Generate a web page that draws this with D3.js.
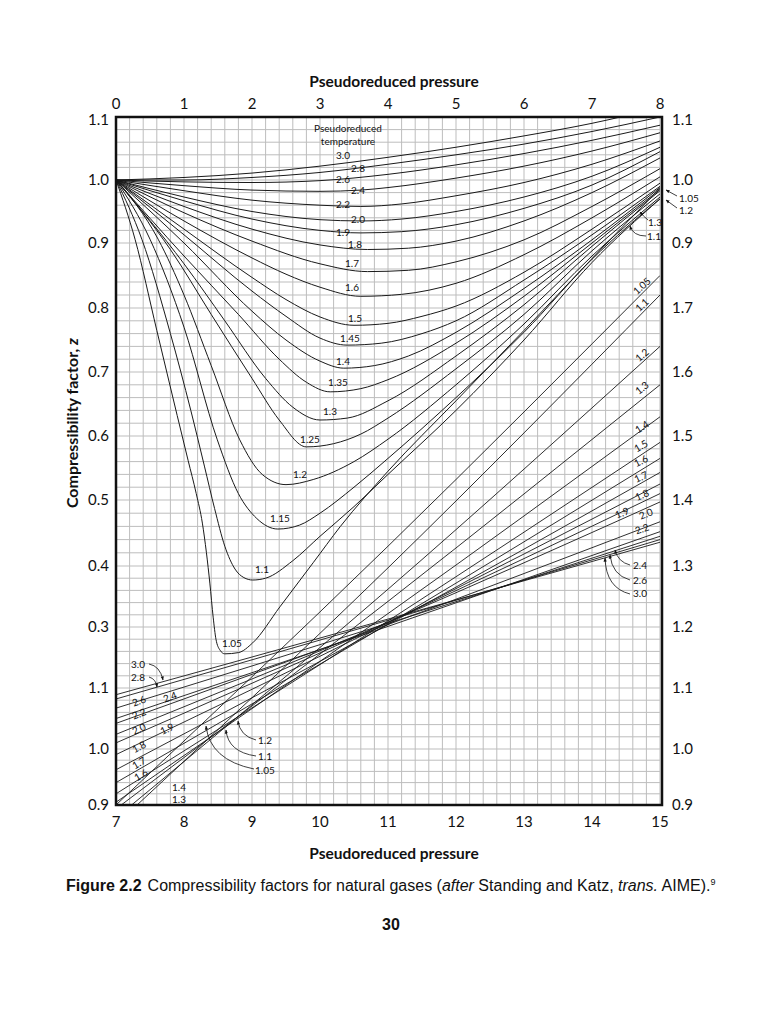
<!DOCTYPE html>
<html>
<head>
<meta charset="utf-8">
<script src="https://cdn.jsdelivr.net/npm/d3@7"></script>
<style>
  body { margin: 0; background: #fff; }
  svg text { font-family: Lato, "Open Sans", sans-serif; fill: #111; }
  text.cap { font-family: "Liberation Sans", Arial, sans-serif; }
</style>
</head>
<body>
<svg id="chart" width="768" height="1024"></svg>
<script>
// tick labels
var topTicks = [0, 1, 2, 3, 4, 5, 6, 7, 8];
var bottomTicks = [7, 8, 9, 10, 11, 12, 13, 14, 15];
var leftTicks = [1.1, 1.0, 0.9, 0.8, 0.7, 0.6, 0.5, 0.4, 0.3];
var lowerLeftTicks = [1.1, 1.0, 0.9];
var rightTopTicks = [1.1, 1.0, 0.9];
var rightLowTicks = [1.7, 1.6, 1.5, 1.4, 1.3, 1.2, 1.1, 1.0, 0.9];

// upper chart: [pseudoreduced pressure, z], Ppr 0 to 8
var upper105 = [[0,1],[0.28,0.906],[0.6,0.765],[0.9,0.632],[1.06,0.562],[1.18,0.51],[1.27,0.465],[1.33,0.42],[1.38,0.372],[1.43,0.315],[1.47,0.28],[1.53,0.262],[1.6,0.256],[1.8,0.258],[2.01,0.274],[2.41,0.333],[2.9,0.405],[3.3,0.46],[4,0.545],[5,0.655],[6,0.765],[7,0.876],[8,0.987]];
var upper110 = [[0,1],[0.38,0.906],[0.8,0.76],[1.1,0.64],[1.3,0.553],[1.45,0.487],[1.6,0.43],[1.75,0.395],[1.88,0.381],[2.01,0.377],[2.2,0.38],[2.6,0.408],[3,0.445],[3.5,0.49],[4,0.54],[5,0.64],[6,0.75],[7,0.87],[8,0.97]];
var upper115 = [[0,1],[0.5,0.906],[1,0.77],[1.49,0.594],[1.8,0.51],[2.07,0.472],[2.38,0.456],[2.7,0.462],[3,0.48],[3.5,0.52],[4,0.565],[5,0.66],[6,0.762],[7,0.875],[8,0.97]];
var upper120 = [[0,1],[0.62,0.906],[1,0.82],[1.4,0.71],[1.82,0.594],[2.15,0.54],[2.5,0.524],[2.9,0.532],[3.5,0.56],[4,0.595],[5,0.68],[6,0.775],[7,0.88],[8,0.973]];
var upper125 = [[0,1],[0.8,0.89],[1.4,0.79],[2,0.69],[2.4,0.625],[2.8,0.583],[3.2,0.588],[3.6,0.603],[4,0.628],[5,0.705],[6,0.79],[7,0.888],[8,0.978]];
var upper130 = [[0,1],[1,0.868],[1.6,0.78],[2.2,0.69],[2.6,0.645],[3,0.625],[3.4,0.628],[4,0.655],[5,0.725],[6,0.805],[7,0.895],[8,0.983]];
var upper135 = [[0,1],[1,0.88],[1.8,0.79],[2.4,0.72],[2.8,0.684],[3.15,0.669],[3.6,0.674],[4,0.688],[5,0.745],[6,0.818],[7,0.9],[8,0.985]];
var upper140 = [[0,1],[1,0.9],[2,0.795],[2.5,0.75],[3,0.717],[3.35,0.706],[3.8,0.71],[4.3,0.725],[5,0.762],[6,0.83],[7,0.905],[8,0.988]];
var upper145 = [[0,1],[1,0.913],[2,0.826],[2.5,0.787],[3,0.753],[3.4,0.742],[3.9,0.745],[4.5,0.76],[5,0.78],[6,0.843],[7,0.913],[8,0.99]];
var upper150 = [[0,1],[1,0.922],[2,0.847],[2.5,0.813],[3,0.786],[3.5,0.773],[4,0.776],[4.5,0.787],[5,0.803],[6,0.855],[7,0.922],[8,0.995]];
var upper160 = [[0,1],[1,0.935],[2,0.877],[2.5,0.852],[3,0.832],[3.6,0.818],[4.2,0.821],[5,0.838],[6,0.882],[7,0.94],[8,1.005]];
var upper170 = [[0,1],[1,0.948],[2,0.903],[3,0.868],[3.7,0.856],[4.3,0.858],[5,0.871],[6,0.905],[7,0.958],[8,1.018]];
var upper180 = [[0,1],[1,0.958],[2,0.922],[3,0.897],[3.7,0.89],[4.3,0.892],[5,0.903],[6,0.935],[7,0.98],[8,1.035]];
var upper190 = [[0,1],[1,0.967],[2,0.938],[3,0.92],[3.6,0.916],[4.2,0.918],[5,0.929],[6,0.955],[7,0.992],[8,1.045]];
var upper200 = [[0,1],[1,0.973],[2,0.95],[3,0.937],[3.6,0.935],[4.2,0.938],[5,0.95],[6,0.973],[7,1.006],[8,1.052]];
var upper220 = [[0,1],[1,0.983],[2,0.968],[3,0.96],[3.6,0.958],[4.2,0.962],[5,0.975],[6,0.996],[7,1.025],[8,1.062]];
var upper240 = [[0,1],[1,0.991],[2,0.984],[3,0.982],[3.6,0.984],[4,0.988],[5,1.003],[6,1.022],[7,1.046],[8,1.075]];
var upper260 = [[0,1],[1,0.997],[2,0.996],[3,0.999],[4,1.009],[5,1.024],[6,1.042],[7,1.063],[8,1.087]];
var upper280 = [[0,1],[1,1.0],[2,1.004],[3,1.012],[4,1.025],[5,1.04],[6,1.057],[7,1.077],[8,1.1]];
var upper300 = [[0,1],[1,1.004],[2,1.011],[3,1.022],[4,1.036],[5,1.052],[6,1.07],[7,1.09],[8,1.115]];

var upperCurves = [upper105, upper110, upper115, upper120, upper125, upper130, upper135, upper140,
  upper145, upper150, upper160, upper170, upper180, upper190, upper200, upper220, upper240,
  upper260, upper280, upper300];

// lower chart: z at Ppr 7, 11 and 15 for each pseudoreduced temperature
var lowerTemps = [1.05, 1.1, 1.2, 1.3, 1.4, 1.5, 1.6, 1.7, 1.8, 1.9, 2.0, 2.2, 2.4, 2.6, 2.8, 3.0];
var lowerPpr = [7, 11, 15];
var lowerAt7 = [0.9, 0.865, 0.877, 0.893, 0.905, 0.92, 0.94, 0.963, 0.99, 1.01, 1.024, 1.042, 1.05, 1.067, 1.082, 1.089];
var lowerAt11 = [1.33, 1.297, 1.262, 1.242, 1.222, 1.21, 1.205, 1.204, 1.207, 1.208, 1.208, 1.204, 1.201, 1.206, 1.211, 1.213];
var lowerAt15 = [1.75, 1.72, 1.64, 1.58, 1.53, 1.49, 1.465, 1.443, 1.425, 1.41, 1.397, 1.367, 1.352, 1.345, 1.34, 1.336];

var svg = d3.select('#chart');
var L = 116, R = 660, T = 117, B = 805;

var xTop = d3.scaleLinear().domain([0, 8]).range([L, R]);
var xBot = d3.scaleLinear().domain([7, 15]).range([L, R]);
// the printed z axis is slightly uneven, so follow its labelled positions
var y = d3.scaleLinear()
  .domain([0, 0.1, 0.2, 0.3, 0.4, 0.5, 0.6, 0.7, 0.8, 0.9, 1.0, 1.1])
  .range([805, 749, 688, 627, 566, 500, 436, 372, 308, 243, 180, 117]);
var lowOffset = 0.9; // lower chart z is drawn 0.9 below its value

svg.append('defs').append('clipPath').attr('id', 'frame')
  .append('rect').attr('x', L).attr('y', T).attr('width', R - L).attr('height', B - T);
var mk = svg.select('defs').append('marker').attr('id', 'tip')
  .attr('viewBox', '0 0 10 10').attr('refX', 9).attr('refY', 5)
  .attr('markerWidth', 5).attr('markerHeight', 5).attr('orient', 'auto');
mk.append('path').attr('d', 'M0,1 L10,5 L0,9 Z').attr('fill', '#111');

// grid
var grid = svg.append('g').attr('stroke', '#bdbdbd').attr('stroke-width', 1);
d3.range(0, 8.001, 0.2).forEach(function(p) {
  grid.append('line').attr('x1', xTop(p)).attr('x2', xTop(p)).attr('y1', T).attr('y2', B);
});
d3.range(0, 1.1001, 0.02).forEach(function(z) {
  grid.append('line').attr('x1', L).attr('x2', R).attr('y1', y(z)).attr('y2', y(z));
});

var plot = svg.append('g').attr('clip-path', 'url(#frame)')
  .attr('fill', 'none').attr('stroke', '#1a1a1a').attr('stroke-width', 1);

var lineTop = d3.line().x(function(d) { return xTop(d[0]); })
  .y(function(d) { return y(d[1]); }).curve(d3.curveMonotoneX);
upperCurves.forEach(function(c) {
  plot.append('path').attr('d', lineTop(c));
});

var lineBot = d3.line().x(function(d) { return xBot(d[0]); })
  .y(function(d) { return y(d[1] - lowOffset); }).curve(d3.curveMonotoneX);
lowerTemps.forEach(function(t, i) {
  var pts = [[lowerPpr[0], lowerAt7[i]], [lowerPpr[1], lowerAt11[i]], [lowerPpr[2], lowerAt15[i]]];
  plot.append('path').attr('d', lineBot(pts)).attr('stroke-width', 0.9);
});

// frame
svg.append('rect').attr('x', L).attr('y', T).attr('width', R - L + 2).attr('height', B - T)
  .attr('fill', 'none').attr('stroke', '#111').attr('stroke-width', 2.5);

// axes labels
var tickFont = 15;
topTicks.forEach(function(v) {
  svg.append('text').attr('x', xTop(v)).attr('y', 109).attr('text-anchor', 'middle')
    .attr('font-size', tickFont).text(v);
});
bottomTicks.forEach(function(v) {
  svg.append('text').attr('x', xBot(v)).attr('y', 827).attr('text-anchor', 'middle')
    .attr('font-size', tickFont).text(v);
});
function yLabel(v, z, x, anchor) {
  svg.append('text').attr('x', x).attr('y', y(z) + 5 + (z > 1.05 ? 3 : 0))
    .attr('text-anchor', anchor).attr('font-size', tickFont).text(v.toFixed(1));
}
leftTicks.forEach(function(v) { yLabel(v, v, 109, 'end'); });
lowerLeftTicks.forEach(function(v) { yLabel(v, v - lowOffset, 109, 'end'); });
rightTopTicks.forEach(function(v) { yLabel(v, v, 672, 'start'); });
rightLowTicks.forEach(function(v) { yLabel(v, v - lowOffset, 672, 'start'); });

svg.append('text').attr('x', 394).attr('y', 87).attr('text-anchor', 'middle')
  .attr('font-size', 15.5).attr('font-weight', 'bold').text('Pseudoreduced pressure');
svg.append('text').attr('x', 394).attr('y', 859).attr('text-anchor', 'middle')
  .attr('font-size', 15.5).attr('font-weight', 'bold').text('Pseudoreduced pressure');
var yt = svg.append('text').attr('transform', 'translate(78,423) rotate(-90)')
  .attr('text-anchor', 'middle').attr('font-size', 16).attr('font-weight', 'bold');
yt.append('tspan').text('Compressibility factor, ');
yt.append('tspan').attr('font-style', 'italic').text('z');

// curve labels
var small = 10;
function note(t, x, yy, rot, anchor) {
  svg.append('text').attr('x', x).attr('y', yy).attr('dy', '0.35em')
    .attr('text-anchor', anchor || 'middle').attr('font-size', small)
    .attr('transform', rot ? 'rotate(' + rot + ',' + x + ',' + yy + ')' : null)
    .text(t);
}
note('Pseudoreduced', 348, 128);
note('temperature', 348, 141);
[['3.0',343,155],['2.8',358,168],['2.6',343,179],['2.4',358,190],['2.2',343,204],['2.0',358,219],
 ['1.9',343,232],['1.8',355,244],['1.7',352,263],['1.6',352,287],['1.5',355,318],['1.45',350,338],
 ['1.4',343,361],['1.35',338,382],['1.3',330,411],['1.25',310,439],['1.2',300,474],['1.15',280,518],
 ['1.1',262,569],['1.05',232,643]].forEach(function(d) { note(d[0], d[1], d[2]); });

[['1.05',642,286,-42],['1.1',642,305,-42],['1.2',642,355,-40],['1.3',642,388,-38],['1.4',642,427,-33],
 ['1.5',641,446,-30],['1.6',641,461,-27],['1.7',641,477,-25],['1.8',642,495,-23],['1.9',622,513,-22],
 ['2.0',646,514,-21],['2.2',642,529,-19]].forEach(function(d) { note(d[0], d[1], d[2], d[3]); });
note('2.4', 640, 565); note('2.6', 640, 580); note('3.0', 640, 593);

[['2.6',139,701,-20],['2.4',170,697,-20],['2.2',139,714,-22],['2.0',139,729,-25],['1.9',167,729,-25],
 ['1.8',139,747,-28],['1.7',139,763,-30],['1.6',141,775,-30]].forEach(function(d) { note(d[0], d[1], d[2], d[3]); });
note('3.0', 138, 664); note('2.8', 138, 677);
note('1.4', 179, 787); note('1.3', 179, 799);
note('1.2', 258, 740, 0, 'start'); note('1.1', 258, 756, 0, 'start'); note('1.05', 255, 770, 0, 'start');
note('1.05', 679, 198, 0, 'start'); note('1.2', 679, 210, 0, 'start');
note('1.3', 648, 222, 0, 'start'); note('1.1', 647, 236, 0, 'start');

// leader arrows
var leaders = svg.append('g').attr('fill', 'none').attr('stroke', '#111').attr('stroke-width', 0.8);
['M677,196 L666,190', 'M677,208 L666,200', 'M648,220 Q643,216 640,212', 'M646,236 Q633,236 630,226',
 'M630,565 Q618,562 615,550', 'M630,580 Q612,575 610,555', 'M630,594 Q606,588 605,558',
 'M149,664 Q160,666 163,680', 'M149,677 Q156,679 157,687',
 'M256,740 Q240,736 238,721', 'M256,756 Q228,752 226,730', 'M254,769 Q210,760 206,726'
].forEach(function(d) {
  leaders.append('path').attr('d', d).attr('marker-end', 'url(#tip)');
});

// caption
var cap = svg.append('text').attr('class', 'cap').attr('x', 66).attr('y', 891).attr('font-size', 16);
cap.append('tspan').attr('font-weight', 'bold').text('Figure 2.2');
cap.append('tspan').attr('dx', 6).text('Compressibility factors for natural gases (');
cap.append('tspan').attr('font-style', 'italic').text('after');
cap.append('tspan').text(' Standing and Katz, ');
cap.append('tspan').attr('font-style', 'italic').text('trans.');
cap.append('tspan').text(' AIME).');
cap.append('tspan').attr('font-size', 9).attr('dy', -6).text('9');
svg.append('text').attr('class', 'cap').attr('x', 391).attr('y', 930).attr('text-anchor', 'middle')
  .attr('font-size', 16).attr('font-weight', 'bold').text('30');
</script>
</body>
</html>
